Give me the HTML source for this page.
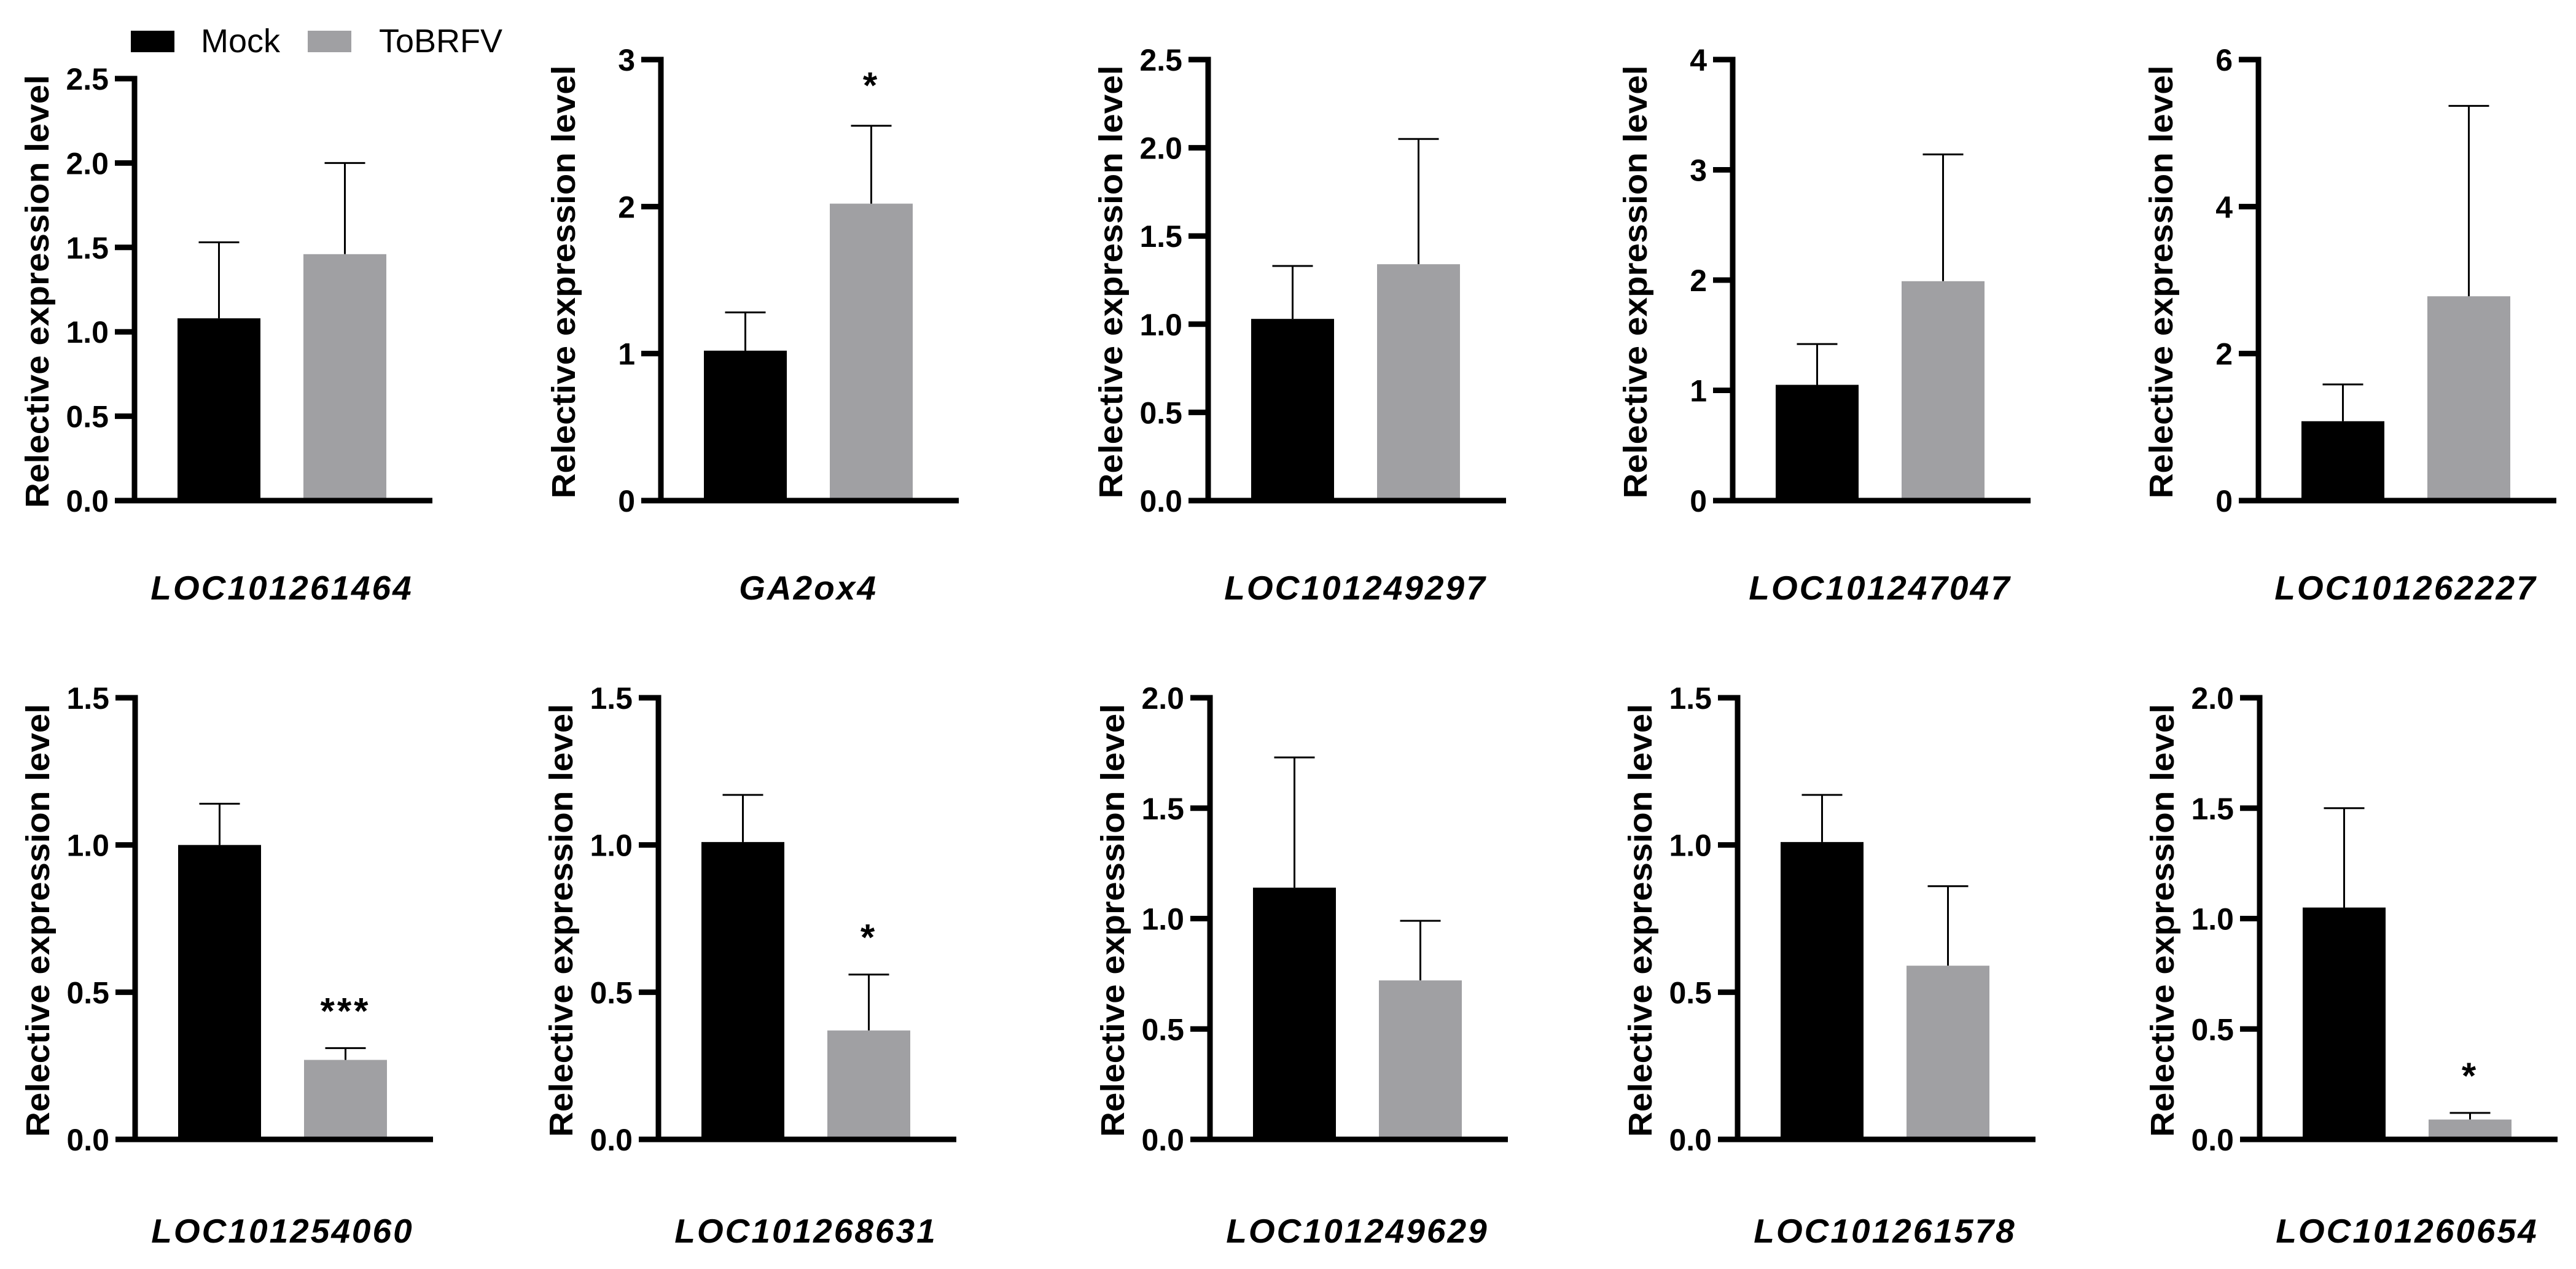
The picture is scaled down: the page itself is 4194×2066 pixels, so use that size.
<!DOCTYPE html>
<html><head><meta charset="utf-8"><style>
html,body{margin:0;padding:0;background:#fff;}
svg{display:block;}
text{font-family:"Liberation Sans",Arial,sans-serif;}
</style></head><body>
<svg id="chart" width="4194" height="2066" viewBox="0 0 4194 2066" xmlns="http://www.w3.org/2000/svg">
<g>
  <rect x="213" y="50" width="71" height="35" fill="#000"/>
  <text x="327" y="85" font-size="54">Mock</text>
  <rect x="501" y="50" width="71" height="35" fill="#a0a0a3"/>
  <text x="617" y="85" font-size="54">ToBRFV</text>
</g>
</svg>
<script>
const genes = ["LOC101261464","GA2ox4","LOC101249297","LOC101247047","LOC101262227","LOC101254060","LOC101268631","LOC101249629","LOC101261578","LOC101260654"];
const mockValues = [1.08,1.02,1.03,1.05,1.08,1.00,1.01,1.14,1.01,1.05];
const mockErrTop = [1.53,1.28,1.33,1.42,1.58,1.14,1.17,1.73,1.17,1.50];
const virusValues = [1.46,2.02,1.34,1.99,2.78,0.27,0.37,0.72,0.59,0.09];
const virusErrTop = [2.00,2.55,2.05,3.14,5.37,0.31,0.56,0.99,0.86,0.12];
const yMax = [2.5,3,2.5,4,6,1.5,1.5,2.0,1.5,2.0];
const yStep = [0.5,1,0.5,1,2,0.5,0.5,0.5,0.5,0.5];
const tickDecimals = [1,0,1,0,0,1,1,1,1,1];
const significance = ["","*","","","","***","*","","","*"];

const NS = "http://www.w3.org/2000/svg";
const svg = document.getElementById('chart');
const axisX = [219,1076,1967,2821,3677,220,1072,1970,2829,3679];
function mk(tag, attrs, parent){
  const e = document.createElementNS(NS, tag);
  for (const k in attrs) e.setAttribute(k, attrs[k]);
  parent.appendChild(e);
  return e;
}
genes.forEach((g, i) => {
  const row = i < 5 ? 0 : 1;
  const A = axisX[i];
  const bottom = row === 0 ? 815 : 1855;
  const top = row === 0 ? (i === 0 ? 128 : 97) : 1136;
  const y = v => bottom - v / yMax[i] * (bottom - top);
  const grp = mk('g', {}, svg);
  
  
  // bars
  const bx = [A + 70, A + 275];
  const vals = [mockValues[i], virusValues[i]];
  const errs = [mockErrTop[i], virusErrTop[i]];
  const cols = ['#000', '#a0a0a3'];
  const bw = 135;
  for (let s = 0; s < 2; s++) {
    const cx = bx[s] + bw / 2;
    const eb = mk('g', {stroke: '#000', 'stroke-width': 3}, grp);
    
    
    mk('line', {x1: cx, x2: cx, y1: y(vals[s]), y2: y(errs[s])}, eb);
    mk('line', {x1: cx - 33, x2: cx + 33, y1: y(errs[s]), y2: y(errs[s])}, eb);
    const r = mk('rect', {x: bx[s], y: y(vals[s]), width: bw, height: bottom - y(vals[s]), fill: cols[s]}, grp);
    
    
  }
  if (significance[i]) {
    const st = mk('text', {x: bx[1] + bw / 2, y: y(virusErrTop[i]) - (row === 0 ? 85 : 80) * (1) + 40, 'font-size': 60, 'text-anchor': 'middle', 'font-weight': 'bold', 'letter-spacing': 4}, grp);
    
    
    st.textContent = significance[i];
  }
  // axes
  const ax = mk('g', {stroke: '#000', 'stroke-width': 9, fill: 'none'}, grp);
  
  
  mk('line', {x1: A, x2: A, y1: top - 4.5, y2: bottom}, ax);
  mk('line', {x1: A - 32, x2: A + 485, y1: bottom, y2: bottom}, ax);
  for (let v = 0; v <= yMax[i] + 1e-9; v += yStep[i]) {
    mk('line', {x1: A - 32, x2: A, y1: y(v), y2: y(v)}, ax);
    const t = mk('text', {x: A - 42, y: y(v) + 18, 'font-size': 50, 'font-weight': 'bold', 'text-anchor': 'end'}, grp);
    
    
    t.textContent = v.toFixed(tickDecimals[i]);
  }
  const yt = mk('text', {x: 0, y: 0, 'font-size': 54, 'font-weight': 'bold', 'text-anchor': 'middle', transform: `translate(${A - 140},${(top + bottom) / 2 + 3}) rotate(-90)`, textLength: 705, lengthAdjust: 'spacingAndGlyphs'}, grp);
  
  
  yt.textContent = 'Relective expression level';
  const gl = mk('text', {x: A + 240, y: row === 0 ? 976 : 2023, 'font-size': 55, 'font-weight': 'bold', 'font-style': 'italic', 'text-anchor': 'middle', 'letter-spacing': 3}, grp);
  
  
  gl.textContent = g;
});
</script>
</body></html>
